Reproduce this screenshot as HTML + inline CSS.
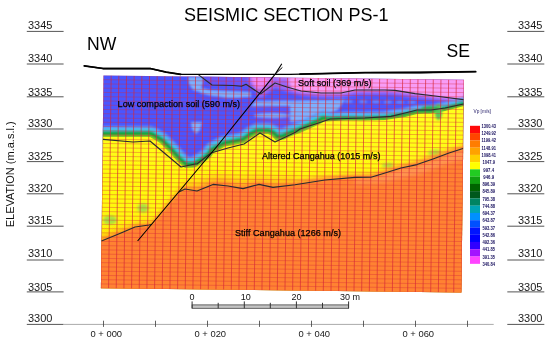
<!DOCTYPE html><html><head><meta charset="utf-8"><title>Seismic Section PS-1</title>
<style>html,body{margin:0;padding:0;background:#fff}svg{display:block}text{font-family:"Liberation Sans",sans-serif}</style></head><body>
<svg width="550" height="341" viewBox="0 0 550 341">
<defs>
<clipPath id="pc"><polygon points="103.5,75.4 464.0,79.8 461.4,292.6 100.9,288.2"/></clipPath>
<filter id="b0_6" x="-20%" y="-20%" width="140%" height="140%"><feGaussianBlur stdDeviation="0.6"/></filter>
<filter id="b1" x="-20%" y="-20%" width="140%" height="140%"><feGaussianBlur stdDeviation="1"/></filter>
<filter id="b1_5" x="-20%" y="-20%" width="140%" height="140%"><feGaussianBlur stdDeviation="1.5"/></filter>
<filter id="b2" x="-20%" y="-20%" width="140%" height="140%"><feGaussianBlur stdDeviation="2"/></filter>
<filter id="b3" x="-20%" y="-20%" width="140%" height="140%"><feGaussianBlur stdDeviation="3"/></filter>
<filter id="b4" x="-20%" y="-20%" width="140%" height="140%"><feGaussianBlur stdDeviation="4"/></filter>
<linearGradient id="yg" x1="0" y1="0" x2="0" y2="1"><stop offset="0" stop-color="#ffff20"/><stop offset="0.45" stop-color="#fffa0a"/><stop offset="1" stop-color="#fff000"/></linearGradient>
</defs>
<rect width="550" height="341" fill="#fff"/>
<g clip-path="url(#pc)">
<rect x="95" y="70" width="380" height="230" fill="#4a55ff"/>
<g filter="url(#b2)">
<polygon points="198.0,70.0 212.0,85.0 241.5,86.0 247.0,84.0 261.0,93.5 280.0,70.0" fill="#6c55f6"/>
<polygon points="262.0,107.0 300.0,107.0 322.0,110.0 315.0,124.0 285.0,136.0 262.0,126.0 250.0,112.0" fill="#5a56f8"/>
</g>
<g filter="url(#b1_5)">
<polygon points="250.0,70.0 258.0,96.0 260.5,98.5 275.0,87.5 287.0,91.5 301.0,95.5 321.0,97.5 341.0,97.5 355.0,94.5 385.0,94.5 395.0,94.9 415.0,98.1 435.0,100.5 463.5,104.1 470.0,70.0" fill="#9a66f6"/>
<polygon points="286.0,70.0 291.0,89.0 301.0,91.5 321.0,93.5 341.0,93.5 355.0,90.5 385.0,90.5 395.0,90.9 415.0,94.1 435.0,96.5 463.5,100.1 470.0,70.0" fill="#f89cf6"/>
<polygon points="276.0,70.0 277.0,79.0 290.0,79.0 288.0,70.0" fill="#c07af4"/>
</g>
<g filter="url(#b2)"><polygon points="250,70 276,70 270,82 262,90 254,88 250,80" fill="#ee88f6"/></g>
<g filter="url(#b1)" fill="#7cb0ff">
<polygon points="188,77 203,77 203,84 199,92 193,90 189,84"/>
<polygon points="197,87 210,90 230,91 251,92 251,97 230,97.5 212,96 200,93"/>
<polygon points="191,122 202,122 200,130 196,134 192,129"/>
<polygon points="255,101 335,100.3 335,105.5 251,106.5"/>
<ellipse cx="232" cy="96" rx="13" ry="2"/>
<ellipse cx="272" cy="115.5" rx="18" ry="2.5"/>
<polygon points="290,101 345,99.5 338,110 322,116 306,121 290,122"/>
<ellipse cx="334" cy="101.2" rx="4.2" ry="1.6" fill-opacity="0.55"/>
<ellipse cx="348.6" cy="101.4" rx="4.2" ry="1.6" fill-opacity="0.55"/>
<ellipse cx="363" cy="101.6" rx="4.2" ry="1.6" fill-opacity="0.55"/>
<ellipse cx="376" cy="101.7" rx="4.2" ry="1.6" fill-opacity="0.55"/>
<ellipse cx="388" cy="101.9" rx="4.2" ry="1.6" fill-opacity="0.55"/>
<ellipse cx="400" cy="102.0" rx="4.2" ry="1.6" fill-opacity="0.55"/>
<ellipse cx="412" cy="102.1" rx="4.2" ry="1.6" fill-opacity="0.55"/>
</g>
<g filter="url(#b1)" fill="none" stroke-linejoin="round" stroke-linecap="round">
<path d="M95.0 137.0 L150.0 137.0 L160.0 143.0 L170.0 153.0 L178.0 162.0 L185.0 168.0 L195.0 167.5 L205.0 161.5 L211.0 157.0 L214.0 152.5 L225.0 146.5 L244.0 143.0 L252.0 137.0 L258.0 134.0 L268.0 134.0 L272.0 136.0 L276.0 140.5 L284.0 139.5 L290.0 136.5 L300.0 133.0 L310.0 128.5 L320.0 124.0 L324.0 121.5" stroke="#5a9cff" stroke-width="22"/>
<path d="M320.0 124.0 L324.0 121.5 L345.0 120.5 L365.0 120.5 L385.0 120.0 L405.0 117.0 L417.0 114.0 L431.0 113.5 L445.0 111.0 L470.0 104.5" stroke="#62a4ff" stroke-width="17.5"/>
<path d="M95.0 137.0 L150.0 137.0 L160.0 143.0 L170.0 153.0 L178.0 162.0 L185.0 168.0 L195.0 167.5 L205.0 161.5 L211.0 157.0 L214.0 152.5 L225.0 146.5 L244.0 143.0 L252.0 137.0 L258.0 134.0 L268.0 134.0 L272.0 136.0 L276.0 140.5 L284.0 139.5 L290.0 136.5 L300.0 133.0 L310.0 128.5 L320.0 124.0 L324.0 121.5" stroke="#3ccbe6" stroke-width="16.5"/>
<path d="M320.0 124.0 L324.0 121.5 L345.0 120.5 L365.0 120.5 L385.0 120.0 L405.0 117.0 L417.0 114.0 L431.0 113.5 L445.0 111.0 L470.0 104.5" stroke="#3ccbe6" stroke-width="11.5"/>
<path d="M95.0 137.0 L150.0 137.0 L160.0 143.0 L170.0 153.0 L178.0 162.0 L185.0 168.0 L195.0 167.5 L205.0 161.5 L211.0 157.0 L214.0 152.5 L225.0 146.5 L244.0 143.0 L252.0 137.0 L258.0 134.0 L268.0 134.0 L272.0 136.0 L276.0 140.5 L284.0 139.5 L290.0 136.5 L300.0 133.0 L310.0 128.5 L320.0 124.0 L324.0 121.5" stroke="#14a23c" stroke-width="11.5"/>
<path d="M320.0 124.0 L324.0 121.5 L345.0 120.5 L365.0 120.5 L385.0 120.0 L405.0 117.0 L417.0 114.0 L431.0 113.5 L445.0 111.0 L470.0 104.5" stroke="#14a23c" stroke-width="9"/>
<path d="M95.0 137.0 L150.0 137.0 L160.0 143.0 L170.0 153.0 L178.0 162.0 L185.0 168.0 L195.0 167.5 L205.0 161.5 L211.0 157.0 L214.0 152.5 L225.0 146.5 L244.0 143.0 L252.0 137.0 L258.0 134.0 L268.0 134.0 L272.0 136.0 L276.0 140.5 L284.0 139.5 L290.0 136.5 L300.0 133.0 L310.0 128.5 L320.0 124.0 L324.0 121.5" stroke="#9fe01a" stroke-width="2.5"/>
<path d="M320.0 124.0 L324.0 121.5 L345.0 120.5 L365.0 120.5 L385.0 120.0 L405.0 117.0 L417.0 114.0 L431.0 113.5 L445.0 111.0 L470.0 104.5" stroke="#9fe01a" stroke-width="1.5"/>

</g>
<g filter="url(#b0_6)"><polygon points="95.0,137.0 150.0,137.0 160.0,143.0 170.0,153.0 178.0,162.0 185.0,168.0 195.0,167.5 205.0,161.5 211.0,157.0 214.0,152.5 225.0,146.5 244.0,143.0 252.0,137.0 258.0,134.0 268.0,134.0 272.0,136.0 276.0,140.5 284.0,139.5 290.0,136.5 300.0,133.0 310.0,128.5 320.0,124.0 324.0,121.5 345.0,120.5 365.0,120.5 385.0,120.0 405.0,117.0 417.0,114.0 431.0,113.5 445.0,111.0 470.0,104.5 470.0,300.0 95.0,300.0" fill="url(#yg)"/></g>
<g filter="url(#b1)"><ellipse cx="438.5" cy="112" rx="3.6" ry="8" fill="#58c858"/><ellipse cx="430" cy="108.5" rx="9" ry="2.5" fill="#2cb050"/></g>
<g filter="url(#b1_5)" fill="#a8e040"><ellipse cx="143" cy="208" rx="5.5" ry="4.5"/><ellipse cx="110" cy="220" rx="7" ry="4.5"/><ellipse cx="388" cy="165.5" rx="6" ry="2.6"/><ellipse cx="435" cy="153" rx="7" ry="3"/></g>
<g filter="url(#b4)"><polygon points="95.0,238.0 121.0,229.0 135.0,223.5 150.0,222.0 158.0,222.0 182.0,191.0 185.0,182.0 197.0,183.0 213.0,176.0 228.0,177.0 243.0,180.0 259.0,176.0 273.0,179.0 295.0,177.0 300.0,300.0 95.0,300.0" fill="#ffbf18"/></g>
<g filter="url(#b2)"><polygon points="295.0,180.5 325.0,176.5 355.0,173.9 371.0,173.7 385.0,169.5 401.0,164.5 417.0,161.1 433.0,155.5 449.0,149.5 470.0,143.5 470.0,300.0 290.0,300.0" fill="#ffb428"/></g>
<g filter="url(#b2)"><polygon points="95.0,241.0 121.0,232.0 135.0,226.0 149.0,224.0 151.5,223.5 179.0,191.0 185.0,188.0 197.0,189.0 213.0,182.0 228.0,183.0 243.0,186.0 259.0,182.0 273.0,185.0 295.0,183.0 325.0,179.0 355.0,176.4 371.0,176.2 385.0,172.0 401.0,167.0 417.0,163.6 433.0,158.0 449.0,152.0 470.0,146.0 470.0,300.0 95.0,300.0" fill="#ff8232"/></g>
<g filter="url(#b2)"><polygon points="355.0,178.9 371.0,178.7 385.0,174.5 401.0,169.5 417.0,166.1 433.0,160.5 449.0,154.5 463.0,150.1 470.0,158.0 449.0,163.0 433.0,169.0 417.0,175.0 401.0,178.0 385.0,182.0 355.0,184.0" fill="#ff9c58" fill-opacity="0.8"/></g>
<g transform="translate(103.5 75.4) rotate(0.7)" stroke="#d62838" fill="none">
<path d="M0.00 0V212.8M7.67 0V212.8M15.34 0V212.8M23.01 0V212.8M30.68 0V212.8M38.35 0V212.8M46.02 0V212.8M53.69 0V212.8M61.36 0V212.8M69.03 0V212.8M76.70 0V212.8M84.37 0V212.8M92.04 0V212.8M99.71 0V212.8M107.38 0V212.8M115.05 0V212.8M122.72 0V212.8M130.39 0V212.8M138.06 0V212.8M145.73 0V212.8M153.40 0V212.8M161.07 0V212.8M168.74 0V212.8M176.41 0V212.8M184.09 0V212.8M191.76 0V212.8M199.43 0V212.8M207.10 0V212.8M214.77 0V212.8M222.44 0V212.8M230.11 0V212.8M237.78 0V212.8M245.45 0V212.8M253.12 0V212.8M260.79 0V212.8M268.46 0V212.8M276.13 0V212.8M283.80 0V212.8M291.47 0V212.8M299.14 0V212.8M306.81 0V212.8M314.48 0V212.8M322.15 0V212.8M329.82 0V212.8M337.49 0V212.8M345.16 0V212.8M352.83 0V212.8M360.50 0V212.8" stroke-width="0.9" stroke-opacity="0.74"/>
<path d="M0 0.00H360.5M0 4.26H360.5M0 8.51H360.5M0 12.77H360.5M0 17.02H360.5M0 21.28H360.5M0 25.54H360.5M0 29.79H360.5M0 34.05H360.5M0 38.30H360.5M0 42.56H360.5M0 46.82H360.5M0 51.07H360.5M0 55.33H360.5M0 59.58H360.5M0 63.84H360.5M0 68.10H360.5M0 72.35H360.5M0 76.61H360.5M0 80.86H360.5M0 85.12H360.5M0 89.38H360.5M0 93.63H360.5M0 97.89H360.5M0 102.14H360.5M0 106.40H360.5M0 110.66H360.5M0 114.91H360.5M0 119.17H360.5M0 123.42H360.5M0 127.68H360.5M0 131.94H360.5M0 136.19H360.5M0 140.45H360.5M0 144.70H360.5M0 148.96H360.5M0 153.22H360.5M0 157.47H360.5M0 161.73H360.5M0 165.98H360.5M0 170.24H360.5M0 174.50H360.5M0 178.75H360.5M0 183.01H360.5M0 187.26H360.5M0 191.52H360.5M0 195.78H360.5M0 200.03H360.5M0 204.29H360.5M0 208.54H360.5M0 212.80H360.5" stroke-width="0.8" stroke-opacity="0.46"/>
</g>
</g>
<g fill="none" stroke="#2a2a30" stroke-width="1.1" stroke-linejoin="round">
<path d="M103.0 139.4 L133.0 142.0 L150.0 141.0 L181.0 167.0 L195.0 164.0 L197.0 164.0 L211.0 153.0 L228.0 148.0 L244.0 144.0 L260.0 133.0 L275.0 142.0 L295.0 132.6 L300.0 129.0 L320.0 122.4 L330.0 119.0 L365.0 118.0 L391.0 116.4 L405.0 113.0 L417.0 110.0 L431.0 110.0 L445.0 108.0 L463.5 104.0"/>
<path d="M198.0 74.4 L212.0 85.0 L233.0 85.5 L241.5 86.3 L246.0 84.3 L260.5 94.0"/>
<path d="M260.5 94.0 L275.0 83.0 L287.0 87.0 L301.0 91.0 L321.0 93.0 L341.0 93.0 L355.0 90.0 L385.0 90.0 L395.0 90.4 L415.0 93.6 L435.0 96.0 L463.5 99.6"/>
<path d="M101.5 241.0 L121.0 233.0 L135.0 227.0 L149.0 225.0 L151.5 224.5"/>
<path d="M179.0 192.0 L185.0 189.0 L197.0 191.0 L213.0 184.4 L228.0 186.0 L243.0 188.6 L259.0 184.4 L273.0 187.4 L295.0 184.7 L325.0 180.0 L355.0 177.4 L371.0 177.2 L385.0 173.0 L401.0 168.0 L417.0 164.6 L433.0 159.0 L449.0 153.0 L463.0 148.6"/>
</g>
<path d="M281.8 63.8 L275.4 73.9 L218.1 145.0 L137.6 241.0" fill="none" stroke="#000" stroke-width="1.1"/>
<path d="M275.9 73.4 L282.4 67.4" fill="none" stroke="#000" stroke-width="1"/>
<path d="M84.2 65.9 L103.0 68.5 L150.2 68.5 L166.2 72.2 L180.7 74.3 L290.0 74.4 L365.0 72.6 L420.0 72.5 L475.7 71.7" fill="none" stroke="#000" stroke-width="1.3" stroke-linejoin="round"/>
<path d="M84.2 65.9 L103.0 68.5 L150.2 68.5 L166.2 72.2 L180.7 74.3" fill="none" stroke="#000" stroke-width="1.75" stroke-linejoin="round" stroke-linecap="round"/>
<path d="M300.0 74.2 L365.0 72.6 L420.0 72.5 L475.7 71.7" fill="none" stroke="#000" stroke-width="1.8" stroke-linejoin="round" stroke-linecap="round"/>
<g font-size="9.6" fill="#000" stroke="#000" stroke-width="0.25">
<text x="117.6" y="107.1" textLength="122.5" lengthAdjust="spacingAndGlyphs">Low compaction soil (590 m/s)</text>
<text x="298" y="85.6" textLength="73.6" lengthAdjust="spacingAndGlyphs">Soft soil (369 m/s)</text>
<text x="262" y="159" textLength="118.4" lengthAdjust="spacingAndGlyphs">Altered Cangahua (1015 m/s)</text>
<text x="235" y="236" textLength="106" lengthAdjust="spacingAndGlyphs">Stiff Cangahua (1266 m/s)</text>
</g>
<text x="184" y="21.4" font-size="18" textLength="204.5" lengthAdjust="spacingAndGlyphs" fill="#000">SEISMIC SECTION PS-1</text>
<text x="87" y="50.2" font-size="17.6" fill="#000">NW</text>
<text x="446.4" y="57.1" font-size="17.6" fill="#000">SE</text>
<text transform="translate(14.2 227.3) rotate(-90)" font-size="11" fill="#111">ELEVATION (m.a.s.l.)</text>
<g font-size="11" fill="#1a1a1a">
<text x="27.9" y="29.1">3345</text>
<text x="518" y="29.1">3345</text>
<text x="27.9" y="61.9">3340</text>
<text x="518" y="61.9">3340</text>
<text x="27.9" y="95.6">3335</text>
<text x="518" y="95.6">3335</text>
<text x="27.9" y="126.6">3330</text>
<text x="518" y="126.6">3330</text>
<text x="27.9" y="159.5">3325</text>
<text x="518" y="159.5">3325</text>
<text x="27.9" y="191.6">3320</text>
<text x="518" y="191.6">3320</text>
<text x="27.9" y="224.0">3315</text>
<text x="518" y="224.0">3315</text>
<text x="27.9" y="257.0">3310</text>
<text x="518" y="257.0">3310</text>
<text x="27.9" y="290.9">3305</text>
<text x="518" y="290.9">3305</text>
<text x="27.9" y="321.9">3300</text>
<text x="518" y="321.9">3300</text>
</g>
<g stroke="#555" stroke-width="1">
<path d="M26.8 31.4H63.6M507.3 31.4H544.3"/>
<path d="M26.8 64.0H63.6M507.3 64.0H544.3"/>
<path d="M26.8 96.8H63.6M507.3 96.8H544.3"/>
<path d="M26.8 129.0H63.6M507.3 129.0H544.3"/>
<path d="M26.8 161.6H63.6M507.3 161.6H544.3"/>
<path d="M26.8 193.8H63.6M507.3 193.8H544.3"/>
<path d="M26.8 226.2H63.6M507.3 226.2H544.3"/>
<path d="M26.8 260.0H63.6M507.3 260.0H544.3"/>
<path d="M26.8 291.9H63.6M507.3 291.9H544.3"/>
<path d="M26.8 324.4H63.6M507.3 324.4H544.3"/>
</g>
<path d="M63.6 324.4H493.7" stroke="#aaa" stroke-width="1"/>
<path d="M103.5 320.7V326.9M155.5 320.7V326.9M207.5 320.7V326.9M259.5 320.7V326.9M311.5 320.7V326.9M363.5 320.7V326.9M415.5 320.7V326.9M467.5 320.7V326.9" stroke="#444" stroke-width="0.85"/>
<g font-size="9.4" fill="#1a1a1a" text-anchor="middle">
<text x="106.3" y="337">0 + 000</text>
<text x="210.3" y="337">0 + 020</text>
<text x="314.3" y="337">0 + 040</text>
<text x="418.3" y="337">0 + 060</text>
</g>
<rect x="192.1" y="304.9" width="156.5" height="3.4" fill="#c4c4c4" stroke="#444" stroke-width="0.8"/>
<path d="M192.1 301.4V308.3M218.2 302.8V308.3M244.3 301.4V308.3M270.3 302.8V308.3M296.4 301.4V308.3M322.5 302.8V308.3M348.6 301.4V308.3" stroke="#333" stroke-width="1"/>
<g font-size="9" fill="#111" text-anchor="middle">
<text x="192.1" y="300">0</text><text x="245.8" y="300">10</text><text x="296.4" y="300">20</text>
<text x="340" y="300" text-anchor="start">30 m</text>
</g>
<rect x="470" y="125.80" width="10" height="7.36" fill="#ff0a0a"/>
<rect x="470" y="133.06" width="10" height="7.36" fill="#ff4500"/>
<rect x="470" y="140.32" width="10" height="7.36" fill="#ff7d00"/>
<rect x="470" y="147.58" width="10" height="7.36" fill="#ffa200"/>
<rect x="470" y="154.84" width="10" height="7.36" fill="#ffcf00"/>
<rect x="470" y="162.10" width="10" height="7.36" fill="#ffff00"/>
<rect x="470" y="169.36" width="10" height="7.36" fill="#22cc22"/>
<rect x="470" y="176.62" width="10" height="7.36" fill="#10a010"/>
<rect x="470" y="183.88" width="10" height="7.36" fill="#006400"/>
<rect x="470" y="191.14" width="10" height="7.36" fill="#00581c"/>
<rect x="470" y="198.40" width="10" height="7.36" fill="#008462"/>
<rect x="470" y="205.66" width="10" height="7.36" fill="#00a4b4"/>
<rect x="470" y="212.92" width="10" height="7.36" fill="#0090ff"/>
<rect x="470" y="220.18" width="10" height="7.36" fill="#0050ff"/>
<rect x="470" y="227.44" width="10" height="7.36" fill="#0014ff"/>
<rect x="470" y="234.70" width="10" height="7.36" fill="#0000ff"/>
<rect x="470" y="241.96" width="10" height="7.36" fill="#3000ff"/>
<rect x="470" y="249.22" width="10" height="7.36" fill="#a414ff"/>
<rect x="470" y="256.48" width="10" height="7.36" fill="#ff44ff"/>
<g font-size="5.6" font-weight="bold" fill="#1a1260" text-anchor="middle">
<text x="488.7" y="127.9" textLength="14.5" lengthAdjust="spacingAndGlyphs">1300.43</text>
<text x="488.7" y="135.2" textLength="14.5" lengthAdjust="spacingAndGlyphs">1249.92</text>
<text x="488.7" y="142.4" textLength="14.5" lengthAdjust="spacingAndGlyphs">1199.42</text>
<text x="488.7" y="149.7" textLength="14.5" lengthAdjust="spacingAndGlyphs">1148.91</text>
<text x="488.7" y="156.9" textLength="14.5" lengthAdjust="spacingAndGlyphs">1098.41</text>
<text x="488.7" y="164.2" textLength="12.6" lengthAdjust="spacingAndGlyphs">1047.9</text>
<text x="488.7" y="171.5" textLength="10.8" lengthAdjust="spacingAndGlyphs">997.4</text>
<text x="488.7" y="178.7" textLength="10.8" lengthAdjust="spacingAndGlyphs">946.9</text>
<text x="488.7" y="186.0" textLength="12.6" lengthAdjust="spacingAndGlyphs">896.39</text>
<text x="488.7" y="193.2" textLength="12.6" lengthAdjust="spacingAndGlyphs">845.89</text>
<text x="488.7" y="200.5" textLength="12.6" lengthAdjust="spacingAndGlyphs">795.38</text>
<text x="488.7" y="207.8" textLength="12.6" lengthAdjust="spacingAndGlyphs">744.88</text>
<text x="488.7" y="215.0" textLength="12.6" lengthAdjust="spacingAndGlyphs">694.37</text>
<text x="488.7" y="222.3" textLength="12.6" lengthAdjust="spacingAndGlyphs">643.87</text>
<text x="488.7" y="229.5" textLength="12.6" lengthAdjust="spacingAndGlyphs">593.37</text>
<text x="488.7" y="236.8" textLength="12.6" lengthAdjust="spacingAndGlyphs">542.86</text>
<text x="488.7" y="244.1" textLength="12.6" lengthAdjust="spacingAndGlyphs">492.36</text>
<text x="488.7" y="251.3" textLength="12.6" lengthAdjust="spacingAndGlyphs">441.85</text>
<text x="488.7" y="258.6" textLength="12.6" lengthAdjust="spacingAndGlyphs">391.35</text>
<text x="488.7" y="265.8" textLength="12.6" lengthAdjust="spacingAndGlyphs">340.84</text>
</g>
<text x="473.5" y="113.3" font-size="5.8" fill="#1a1260" textLength="17.4" lengthAdjust="spacingAndGlyphs">Vp [m/s]</text>
</svg></body></html>
